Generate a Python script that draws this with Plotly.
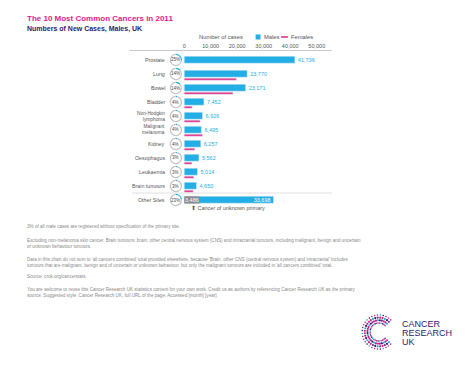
import math
import plotly.graph_objects as go

# The page body has an 8px margin, so the figure is drawn from (8, 8).
OFF = 8
W, H = 474 - OFF, 366 - OFF

categories = ["Prostate", "Lung", "Bowel", "Bladder", "Non-Hodgkin<br>lymphoma",
              "Malignant<br>melanoma", "Kidney", "Oesophagus", "Leukaemia",
              "Brain tumours", "Other Sites"]
males = [41736, 23770, 23171, 7452, 6926, 6495, 6257, 5562, 5014, 4650, 33698]
females = [None, 19700, 18400, 3000, 6000, 6900, 4000, 2900, 3600, 3400, None]
unknown_primary = [None, None, None, None, None, None, None, None, None, None, 3486]
percents = [25, 14, 14, 4, 4, 4, 4, 3, 3, 3, 23]
tick_vals = [0, 10000, 20000, 30000, 40000, 50000]
tick_text = ["0", "10,000", "20,000", "30,000", "40,000", "50,000"]

BLUE = "#23aee5"
PINK = "#d9267f"
GREY_BAR = "#8c8c8c"
TXT = "#555555"
FONT = "Liberation Sans"

def px(x):
    return (x - OFF) / W

def py(y):
    return 1 - (y - OFF) / H

row0, step = 60, 14
n = len(categories)
ytop = row0 - step / 2
ybot = row0 + step * (n - 1) + step / 2

fig = go.Figure()

male_text = [f"{v:,}" for v in males]
fig.add_trace(go.Bar(
    y=categories, x=males, orientation="h", marker_color=BLUE,
    width=0.5, offset=-0.27, text=male_text,
    textposition=["outside"] * (n - 1) + ["inside"], insidetextanchor="end",
    textfont=dict(size=5.5, color=[BLUE] * (n - 1) + ["white"], family=FONT),
    cliponaxis=False, constraintext="none", showlegend=False, hoverinfo="skip"))
fig.add_trace(go.Bar(
    y=categories, x=unknown_primary, orientation="h", marker_color=GREY_BAR,
    width=0.5, offset=-0.27, showlegend=False, hoverinfo="skip"))
fig.add_trace(go.Bar(
    y=categories, x=females, orientation="h", marker_color=PINK,
    width=0.14, offset=0.3, showlegend=False, hoverinfo="skip"))

# donut circles with share of cases
for i, (cat, p) in enumerate(zip(categories, percents)):
    cy = row0 + step * i
    cx, r = 177.5, 6.3
    fig.add_trace(go.Pie(
        values=[p, 100 - p], marker=dict(colors=[BLUE, "#c4c4c4"]),
        hole=0.8, sort=False, direction="clockwise", rotation=0,
        textinfo="none", hoverinfo="skip", showlegend=False,
        domain=dict(x=[px(cx - r), px(cx + r)], y=[py(cy + r), py(cy - r)])))
    fig.add_annotation(x=px(cx), y=py(cy), xref="paper", yref="paper",
                       text=f"{p}%", showarrow=False, yanchor="middle",
                       font=dict(size=4.5, color="#444", family=FONT))
    two_line = "<br>" in cat
    fig.add_annotation(x=px(168.5), y=py(cy), xref="paper", yref="paper",
                       text=cat, showarrow=False, xanchor="right", yanchor="middle",
                       align="right",
                       font=dict(size=4.8 if two_line else 5.3, color=TXT, family=FONT))

fig.update_layout(
    width=W, height=H, margin=dict(l=0, r=0, t=0, b=0),
    paper_bgcolor="white", plot_bgcolor="white", barmode="overlay",
    font=dict(family=FONT),
    xaxis=dict(domain=[px(186), px(321.5)], range=[0, 50000], side="top",
               tickvals=tick_vals, ticktext=tick_text, showgrid=False,
               zeroline=False, showline=False, ticks="outside", ticklen=2,
               tickcolor="rgba(0,0,0,0)",
               tickfont=dict(size=5.5, color=TXT, family=FONT)),
    yaxis=dict(domain=[py(ybot), py(ytop)], range=[n - 0.5, -0.5],
               showticklabels=False, showgrid=False, zeroline=False,
               categoryorder="array", categoryarray=categories),
)

shapes = []
# top axis rule and separator before "Other Sites"
shapes.append(dict(type="line", xref="paper", yref="paper", x0=px(130), x1=px(337),
                   y0=py(50.5), y1=py(50.5), line=dict(color="#c8c8c8", width=1)))
shapes.append(dict(type="line", xref="paper", yref="paper", x0=px(133), x1=px(337),
                   y0=py(193), y1=py(193), line=dict(color="#d8d8d8", width=0.8)))
# legend marks
shapes.append(dict(type="rect", xref="paper", yref="paper", x0=px(259), x1=px(264),
                   y0=py(39.5), y1=py(34.5), fillcolor=BLUE, line=dict(width=0)))
shapes.append(dict(type="line", xref="paper", yref="paper", x0=px(285), x1=px(292),
                   y0=py(37), y1=py(37), line=dict(color=PINK, width=1.5)))

# logo "C" made of dots (gap on the right side)
logo_cols = ["#e0218a", "#7a2e8e", "#2e1a6e", "#23aee5", "#b0287f"]
k = 0
for ring in range(4):
    rr = 9 + ring * 2.7
    for a in range(45, 320, 10):
        xx = 385 + rr * math.cos(math.radians(a))
        yy = 332 - rr * math.sin(math.radians(a))
        s = 1.1 if ring in (1, 2) else 0.8
        shapes.append(dict(type="circle", xref="paper", yref="paper",
                           x0=px(xx - s), x1=px(xx + s), y0=py(yy + s), y1=py(yy - s),
                           fillcolor=logo_cols[k % len(logo_cols)], line=dict(width=0)))
        k += 1
fig.update_layout(shapes=shapes)

def note(x, y, text, size, color, anchor="left"):
    fig.add_annotation(x=px(x), y=py(y), xref="paper", yref="paper", text=text,
                       showarrow=False, xanchor=anchor, yanchor="middle", align="left",
                       font=dict(size=size, color=color, family=FONT))

note(23, 18, "<b>The 10 Most Common Cancers in 2011</b>", 8, "#e0218a")
note(23, 29, "<b>Numbers of New Cases, Males, UK</b>", 7, "#2e1a6e")

note(224, 37, "Number of cases", 5.8, TXT, anchor="center")
note(265.5, 37, "Males", 5.8, TXT)
note(293, 37, "Females", 5.8, TXT)
note(191, 208, "\u2b06 Cancer of unknown primary", 5.5, TXT)
fig.add_annotation(x=0, y="Other Sites", xref="x", yref="y", yshift=0.5,
                   text=f"{unknown_primary[-1]:,}", showarrow=False, xanchor="left",
                   yanchor="middle", bgcolor=GREY_BAR, borderpad=0,
                   font=dict(size=5.5, color="white", family=FONT))

NOTE = "#8a8a8a"
note(23, 226, "3% of all male cases are registered without specification of the primary site.", 4.6, NOTE)
note(23, 240, "Excluding non-melanoma skin cancer. Brain tumours: brain, other central nervous system (CNS) and intracranial tumours, including malignant, benign and uncertain", 4.6, NOTE)
note(23, 246, "or unknown behaviour tumours.", 4.6, NOTE)
note(23, 259, "Data in this chart do not sum to 'all cancers combined' total provided elsewhere, because 'Brain, other CNS (central nervous system) and intracranial' includes", 4.6, NOTE)
note(23, 265, "tumours that are malignant, benign and of uncertain or unknown behaviour, but only the malignant tumours are included in 'all cancers combined' total.", 4.6, NOTE)
note(23, 276, "Source: cruk.org/cancerstats", 4.6, NOTE)
note(23, 289, "You are welcome to reuse this Cancer Research UK statistics content for your own work. Credit us as authors by referencing Cancer Research UK as the primary", 4.6, NOTE)
note(23, 295, "source. Suggested style: Cancer Research UK, full URL of the page, Accessed [month] [year].", 4.6, NOTE)

note(407, 324, "CANCER", 9, "#2e1a6e")
note(407, 333, "RESEARCH", 9, "#2e1a6e")
note(407, 342, "UK", 9, "#2e1a6e")

fig.write_html("out.html")
